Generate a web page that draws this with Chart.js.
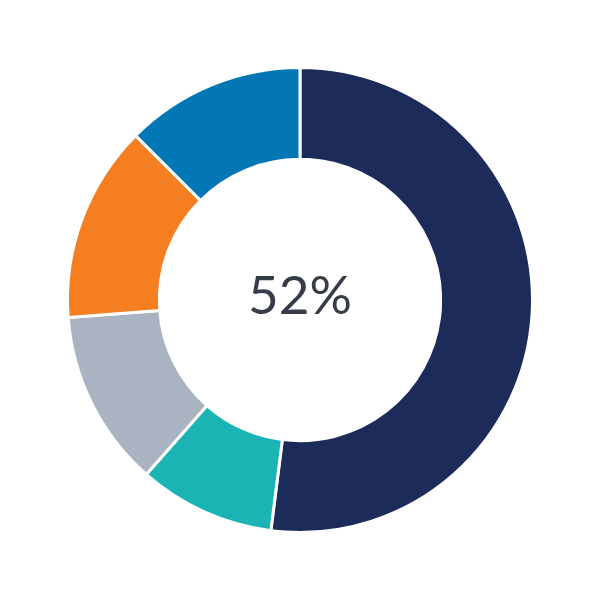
<!DOCTYPE html>
<html>
<head>
<meta charset="utf-8">
<script src="https://cdn.jsdelivr.net/npm/chart.js@4"></script>
<style>
  html, body { margin: 0; padding: 0; background: #fff; }
  #wrap { width: 600px; height: 600px; }
</style>
</head>
<body>
<div id="wrap"><canvas id="donut"></canvas></div>
<script>
// segment data, clockwise from the top
const labels = ['A', 'B', 'C', 'D', 'E'];
const values = [52, 9.5, 12.3, 13.7, 12.5];
const colors = ['#1c2b5a', '#1bb4b5', '#a9b3c1', '#f47e20', '#0377b5'];
const centerLabel = '52%';

// text in the hole
const centerText = {
    id: 'centerText',
    afterDraw(chart) {
        const meta = chart.getDatasetMeta(0).data[0];
        const c = chart.ctx;
        c.save();
        c.font = '400 53px Lato';
        c.fillStyle = '#363c48';
        c.textAlign = 'center';
        c.textBaseline = 'middle';
        c.fillText(centerLabel, meta.x, meta.y - 3);
        c.restore();
    }
};

const ctx = document.getElementById('donut').getContext('2d');
new Chart(ctx, {
    type: 'doughnut',
    data: {
        labels: labels,
        datasets: [{
            data: values,
            backgroundColor: colors,
            borderColor: '#ffffff',
            borderWidth: 3
        }]
    },
    options: {
        responsive: true,
        maintainAspectRatio: false,
        animation: false,
        cutout: '60.5%',
        layout: { padding: 66 },
        plugins: {
            legend: { display: false },
            tooltip: { enabled: false }
        }
    },
    plugins: [centerText]
});
</script>
</body>
</html>
